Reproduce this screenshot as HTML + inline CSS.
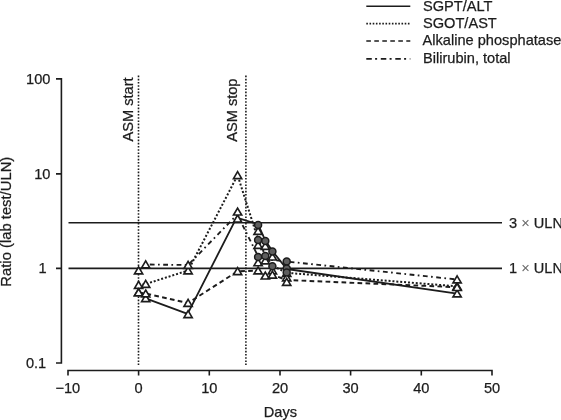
<!DOCTYPE html>
<html><head><meta charset="utf-8"><title>Lab test ratio chart</title>
<style>
html,body{margin:0;padding:0;background:#fff;}
svg{display:block;font-family:"Liberation Sans",Arial,Helvetica,sans-serif;font-size:14.6px;fill:#1c1c1c;}
text{stroke:#1c1c1c;stroke-width:0.25px;}
tspan{stroke:#6a6a6a;stroke-width:0;}
</style></head><body>
<svg width="561" height="420" viewBox="0 0 561 420">
<rect width="561" height="420" fill="#fff"/>
<g stroke="#1c1c1c" stroke-width="1.6" fill="none">
<path d="M56 78.9H61.4V363H56M56 173.9H61.4M56 268.4H61.4"/>
<path d="M68 375.5V370.5H492V375.5M138.6 370.5V375.5M209.3 370.5V375.5M280 370.5V375.5M350.6 370.5V375.5M421.3 370.5V375.5"/>
<path d="M68.5 222.8H502M68.5 268.4H502"/>
</g>
<g stroke="#1c1c1c" stroke-width="1.6" fill="none" stroke-dasharray="1.6 1.6">
<path d="M138.5 75.6V365M245.9 75.6V365"/>
</g>

<g stroke="#1c1c1c" stroke-width="1.8" fill="none" stroke-linejoin="round">
<polyline points="138.6,292.4 145.7,298.3 187.6,313.8 236.6,217.6 258.1,224.3 265.3,240.5 272.4,251.0 286.7,269.0 457.1,293.6"/>
<polyline stroke-dasharray="2 1.9" stroke-width="2" points="138.6,285.0 145.7,284.0 188.1,270.5 237.6,175.3 258.1,239.5 265.3,255.3 272.4,265.6 286.7,272.8 457.1,286.3"/>
<polyline stroke-dasharray="4.7 3.3" stroke-width="1.95" points="138.6,292.4 145.7,293.6 188.1,303.0 237.6,271.3 258.1,270.6 265.3,275.7 272.4,274.8 286.7,280.0 457.1,287.2"/>
<polyline stroke-dasharray="4.8 3.4 1.7 3.5" stroke-width="1.85" points="138.6,270.5 145.7,264.5 188.1,265.0 237.3,214.5 258.1,256.3 265.3,258.0 272.4,260.0 286.7,261.5 457.1,279.5"/>
</g>
<g stroke="#1c1c1c" stroke-width="1.65" fill="#fff" stroke-linejoin="miter">
<path d="M138.60 288.80 L142.70 295.70 L134.50 295.70 Z"/>
<path d="M145.70 294.70 L149.80 301.60 L141.60 301.60 Z"/>
<path d="M188.10 310.70 L192.20 317.60 L184.00 317.60 Z"/>
<path d="M237.60 215.20 L241.70 222.10 L233.50 222.10 Z"/>
<path d="M457.10 290.00 L461.20 296.90 L453.00 296.90 Z"/>
<path d="M138.60 281.40 L142.70 288.30 L134.50 288.30 Z"/>
<path d="M145.70 280.40 L149.80 287.30 L141.60 287.30 Z"/>
<path d="M188.10 266.90 L192.20 273.80 L184.00 273.80 Z"/>
<path d="M237.60 171.70 L241.70 178.60 L233.50 178.60 Z"/>
<path d="M457.10 282.70 L461.20 289.60 L453.00 289.60 Z"/>
<path d="M138.60 288.80 L142.70 295.70 L134.50 295.70 Z"/>
<path d="M145.70 290.00 L149.80 296.90 L141.60 296.90 Z"/>
<path d="M188.10 299.40 L192.20 306.30 L184.00 306.30 Z"/>
<path d="M237.60 267.70 L241.70 274.60 L233.50 274.60 Z"/>
<path d="M457.10 283.60 L461.20 290.50 L453.00 290.50 Z"/>
<path d="M138.60 266.90 L142.70 273.80 L134.50 273.80 Z"/>
<path d="M145.70 260.90 L149.80 267.80 L141.60 267.80 Z"/>
<path d="M188.10 261.40 L192.20 268.30 L184.00 268.30 Z"/>
<path d="M237.60 208.10 L241.70 215.00 L233.50 215.00 Z"/>
<path d="M457.10 275.90 L461.20 282.80 L453.00 282.80 Z"/>
<path d="M258.10 227.40 L262.20 234.30 L254.00 234.30 Z"/>
<path d="M258.10 241.40 L262.20 248.30 L254.00 248.30 Z"/>
<path d="M258.10 258.80 L262.20 265.70 L254.00 265.70 Z"/>
<path d="M258.10 267.00 L262.20 273.90 L254.00 273.90 Z"/>
<path d="M265.30 242.40 L269.40 249.30 L261.20 249.30 Z"/>
<path d="M265.30 256.90 L269.40 263.80 L261.20 263.80 Z"/>
<path d="M265.30 272.10 L269.40 279.00 L261.20 279.00 Z"/>
<path d="M272.40 253.10 L276.50 260.00 L268.30 260.00 Z"/>
<path d="M272.40 266.90 L276.50 273.80 L268.30 273.80 Z"/>
<path d="M272.40 271.20 L276.50 278.10 L268.30 278.10 Z"/>
<path d="M286.70 269.40 L290.80 276.30 L282.60 276.30 Z"/>
<path d="M286.70 274.00 L290.80 280.90 L282.60 280.90 Z"/>
<path d="M286.70 278.40 L290.80 285.30 L282.60 285.30 Z"/>
</g>
<g stroke="#1c1c1c" stroke-width="1.5" fill="#5e5e5e">
<circle cx="258.1" cy="224.9" r="3.5"/>
<circle cx="258.1" cy="240.1" r="3.5"/>
<circle cx="258.1" cy="256.9" r="3.5"/>
<circle cx="265.3" cy="241.1" r="3.5"/>
<circle cx="265.3" cy="255.9" r="3.5"/>
<circle cx="272.4" cy="251.6" r="3.5"/>
<circle cx="272.4" cy="266.2" r="3.5"/>
<circle cx="286.7" cy="261.6" r="3.5"/>
<circle cx="286.7" cy="268.6" r="3.5"/>
<circle cx="286.7" cy="272.6" r="3.5"/>
</g>
<g stroke="#1c1c1c" stroke-width="1.4" fill="none">
<path d="M366.3 6.2H410.3"/>
<path d="M366.3 23.6H410.3" stroke-dasharray="1.6 1.6" stroke-width="1.6"/>
<path d="M366.3 41H410.3" stroke-dasharray="4.6 3.4"/>
<path d="M366.3 58.8H410.3" stroke-dasharray="5.5 3.3 2 3.7" stroke-width="1.8"/>
</g>
<g>
<text x="423" y="10.6">SGPT/ALT</text>
<text x="423" y="27.8">SGOT/AST</text>
<text x="422.6" y="45.4">Alkaline phosphatase</text>
<text x="423" y="63.2">Bilirubin, total</text>
</g><g>
<text x="50.4" y="84" text-anchor="end">100</text>
<text x="50.4" y="179" text-anchor="end">10</text>
<text x="46.5" y="273.4" text-anchor="end">1</text>
<text x="46.2" y="368" text-anchor="end">0.1</text>
<text x="67.8" y="393" text-anchor="middle">−10</text>
<text x="138.6" y="393" text-anchor="middle">0</text>
<text x="209.3" y="393" text-anchor="middle">10</text>
<text x="280" y="393" text-anchor="middle">20</text>
<text x="350.6" y="393" text-anchor="middle">30</text>
<text x="421.3" y="393" text-anchor="middle">40</text>
<text x="492" y="393" text-anchor="middle">50</text>
<text x="280.4" y="416.5" text-anchor="middle">Days</text>
<text x="509" y="227.5">3 <tspan fill="#6a6a6a">×</tspan> ULN</text>
<text x="509" y="273">1 <tspan fill="#6a6a6a">×</tspan> ULN</text>
<text transform="translate(10.5 221.7) rotate(-90)" text-anchor="middle" font-size="14.8">Ratio (lab test/ULN)</text>
<text transform="translate(132.5 141.5) rotate(-90)">ASM start</text>
<text transform="translate(236.5 141.8) rotate(-90)">ASM stop</text>
</g>
</svg>
</body></html>
